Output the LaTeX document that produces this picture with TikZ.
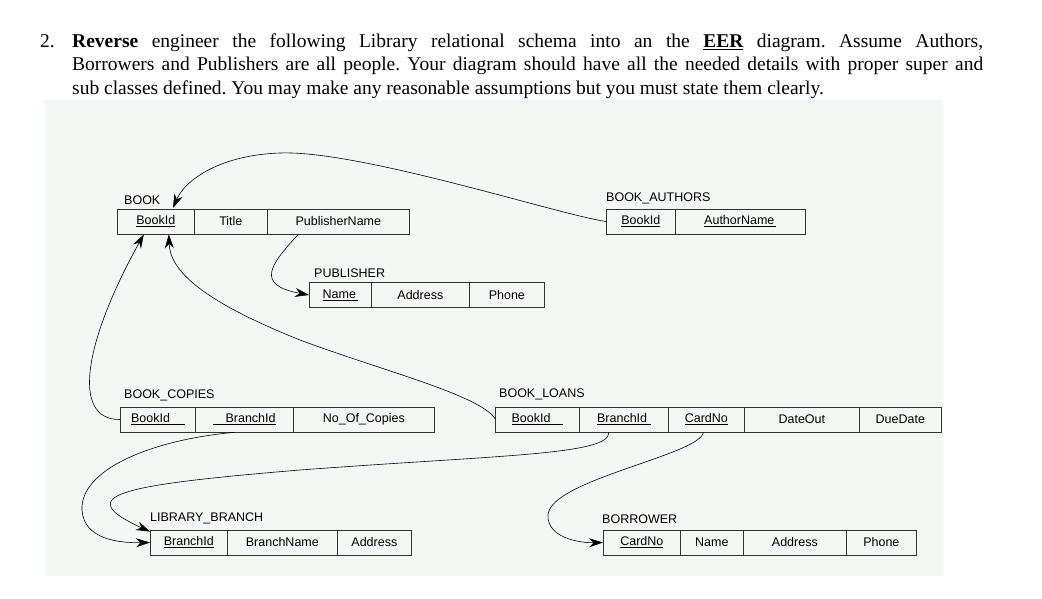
\documentclass[tikz,border=0pt]{standalone}
\usepackage{fontspec}
\setmainfont{Liberation Serif}
\newfontfamily\arialf{Liberation Sans}
\usetikzlibrary{arrows.meta}
\definecolor{panel}{HTML}{F4F8F5}
\frenchspacing
\tikzset{
  cell/.style={draw=black!80, line width=0.7pt, minimum height=25pt, inner sep=0pt, font=\arialf\fontsize{12.5}{14}\selectfont, anchor=west},
  tlabel/.style={font=\arialf\fontsize{12.5}{14}\selectfont, anchor=south west, inner sep=0pt},
  fk/.style={line width=0.6pt, -{Stealth[length=14pt,width=9pt]}},
  hdr/.style={anchor=base west, inner sep=0pt, font=\fontsize{19.5}{23}\selectfont}
}
\newcommand{\ul}[1]{\underline{#1}}
\begin{document}
\begin{tikzpicture}[x=1pt,y=-1pt]
\useasboundingbox (0,0) rectangle (1042,599);
\fill[panel] (44,100) rectangle (943,576);
% header
\node[hdr] (n2) at (40,48) {2.};
\node[hdr] (l1) at (72,48) {\makebox[911pt][s]{\textbf{Reverse} engineer the following Library relational schema into an the \textbf{\underline{EER}} diagram. Assume Authors,}};
\node[hdr] (l2) at (72,71) {\makebox[911pt][s]{Borrowers and Publishers are all people. Your diagram should have all the needed details with proper super and}};
\node[hdr] (l3) at (72,94.5) {sub classes defined. You may make any reasonable assumptions but you must state them clearly.};
% BOOK
\node[tlabel] (tbook) at (124,205) {BOOK};
\node[cell,minimum width=77] (bBid) at (117,221.5) {\ul{BookId}};
\node[cell,minimum width=73] (bTit) at (194,221.5) {Title};
\node[cell,minimum width=142] (bPub) at (267,221.5) {PublisherName};
% BOOK_AUTHORS
\node[tlabel] (tba) at (606,204) {BOOK\_AUTHORS};
\node[cell,minimum width=69] (baBid) at (606,221.5) {\ul{BookId}};
\node[cell,minimum width=130] (baAn) at (675,221.5) {\ul{AuthorName\,}};
% PUBLISHER
\node[tlabel] (tpub) at (314,278) {PUBLISHER};
\node[cell,minimum width=62] (pName) at (309,295) {\ul{Name\,}};
\node[cell,minimum width=98] (pAddr) at (371,295) {Address};
\node[cell,minimum width=75] (pPh) at (469,295) {Phone};
% BOOK_COPIES
\node[tlabel] (tbc) at (124,401) {BOOK\_COPIES};
\node[cell,minimum width=75] (bcBid) at (120,419.5) {\ul{BookId\quad\,}};
\node[cell,minimum width=98] (bcBr) at (195,419.5) {\ul{\quad BranchId}};
\node[cell,minimum width=141] (bcNo) at (293,419.5) {No\_Of\_Copies};
% BOOK_LOANS
\node[tlabel] (tbl) at (499,400) {BOOK\_LOANS};
\node[cell,minimum width=84] (blBid) at (495,419.5) {\ul{BookId\quad}};
\node[cell,minimum width=89] (blBr) at (579,419.5) {\ul{BranchId\ }};
\node[cell,minimum width=76] (blCard) at (668,419.5) {\ul{CardNo}};
\node[cell,minimum width=115] (blOut) at (744,419.5) {DateOut};
\node[cell,minimum width=82] (blDue) at (859,419.5) {DueDate};
% LIBRARY_BRANCH
\node[tlabel] (tlb) at (150,524) {LIBRARY\_BRANCH};
\node[cell,minimum width=77] (lbBr) at (150,542.5) {\ul{BranchId}};
\node[cell,minimum width=110] (lbName) at (227,542.5) {BranchName};
\node[cell,minimum width=74] (lbAddr) at (337,542.5) {Address};
% BORROWER
\node[tlabel] (tbor) at (602,524) {BORROWER};
\node[cell,minimum width=77] (boCard) at (603,542.5) {\ul{CardNo}};
\node[cell,minimum width=63] (boName) at (680,542.5) {Name};
\node[cell,minimum width=103] (boAddr) at (743,542.5) {Address};
\node[cell,minimum width=70] (boPh) at (846,542.5) {Phone};
% connectors
\coordinate (tipBook1) at (173,208);
\draw[fk] (baBid.west) .. controls (560,215) and (360,150) .. (280,153) .. controls (220,155) and (185,180) .. (tipBook1);
\draw[fk] ([xshift=-40pt]bPub.south) .. controls (270,265) and (255,285) .. (pName.west);
\draw[fk] (bcBid.west) .. controls (70,420) and (85,340) .. ([xshift=-12pt]bBid.south);
\draw[fk] ([yshift=-12pt]blBid.north west) .. controls (480,395) and (380,370) .. (300,340) .. controls (200,300) and (170,270) .. ([xshift=13pt]bBid.south);
\draw[fk] ([xshift=-10pt]bcBr.south) .. controls (150,440) and (80,470) .. (82,510) .. controls (84,540) and (120,543) .. (lbBr.west);
\draw[fk] ([xshift=-15pt]blBr.south) .. controls (610,455) and (500,455) .. (300,470) .. controls (120,485) and (70,495) .. ([yshift=-2pt]lbBr.north west);
\draw[fk] ([xshift=-3pt]blCard.south) .. controls (700,455) and (550,480) .. (548,515) .. controls (547,538) and (580,543) .. (boCard.west);
\end{tikzpicture}
\end{document}
